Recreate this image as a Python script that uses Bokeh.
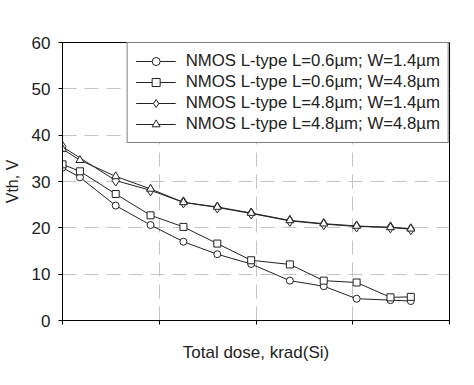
from bokeh.plotting import figure
from bokeh.models import FixedTicker, Range1d
from bokeh.embed import file_html
from bokeh.resources import INLINE

# Data
dose_a = [0, 18, 55, 91, 125, 160, 195, 235, 270, 304, 339, 360]
vth_l06_w14 = [33.0, 30.9, 24.8, 20.6, 17.0, 14.3, 12.2, 8.6, 7.4, 4.7, 4.4, 4.2]
vth_l06_w48 = [33.7, 32.2, 27.3, 22.7, 20.2, 16.6, 13.0, 12.1, 8.6, 8.2, 5.0, 5.1]
dose_d = [0, 55, 91, 125, 160, 195, 235, 270, 304, 339, 360]
vth_l48_w14 = [37.5, 30.2, 28.1, 25.5, 24.4, 23.1, 21.5, 20.8, 20.3, 20.1, 19.7]
vth_l48_w48 = [37.0, 34.6, 31.1, 28.4, 25.5, 24.5, 23.2, 21.6, 20.9, 20.4, 20.1, 19.8]

x_ticks = [0, 100, 200, 300, 400]
y_ticks = [0, 10, 20, 30, 40, 50, 60]
labels = [
    "NMOS L-type L=0.6µm; W=1.4µm",
    "NMOS L-type L=0.6µm; W=4.8µm",
    "NMOS L-type L=4.8µm; W=1.4µm",
    "NMOS L-type L=4.8µm; W=4.8µm",
]

FONT = "Liberation Sans"
INK = "#222222"

p = figure(frame_width=387, frame_height=278, output_backend="svg", toolbar_location=None,
           x_range=Range1d(0, 400), y_range=Range1d(0, 60),
           min_border_left=61, min_border_right=12, min_border_top=42, min_border_bottom=56)

p.outline_line_color = "black"
p.outline_line_alpha = 1.0

series = [
    (dose_a, vth_l06_w14, "circle", 7),
    (dose_a, vth_l06_w48, "square", 7),
    (dose_d, vth_l48_w14, "diamond", 11),
    (dose_a, vth_l48_w48, "triangle", 8),
]
for (xs, ys, marker, size), lab in zip(series, labels):
    p.line(xs, ys, line_color=INK, line_width=1, legend_label=lab)
    p.scatter(xs, ys, marker=marker, size=size, fill_color="white",
              line_color=INK, line_width=1, legend_label=lab)

# axes
p.xaxis.ticker = FixedTicker(ticks=x_ticks)
p.xaxis.major_label_overrides = {t: "" for t in x_ticks}
p.yaxis.ticker = FixedTicker(ticks=y_ticks)
for ax in (p.xaxis, p.yaxis):
    ax.axis_line_color = "black"
    ax.major_tick_line_color = "black"
    ax.major_tick_out = 4
    ax.major_tick_in = 0
    ax.minor_tick_line_color = None
    ax.major_label_text_font = FONT
    ax.major_label_text_font_size = "17px"
    ax.major_label_text_color = INK
    ax.axis_label_text_font = FONT
    ax.axis_label_text_font_size = "17px"
    ax.axis_label_text_font_style = "normal"
    ax.axis_label_text_color = INK
p.xaxis.axis_label = "Total dose, krad(Si)"
p.yaxis.axis_label = "Vth, V"
p.yaxis.axis_label_text_font_size = "16px"
p.yaxis.major_label_standoff = 8
p.yaxis.axis_label_standoff = 8
p.xaxis.axis_label_standoff = 18

# grid
p.xgrid.ticker = FixedTicker(ticks=[100, 200, 300])
p.ygrid.ticker = FixedTicker(ticks=[10, 20, 30, 40, 50])
for g in (p.xgrid, p.ygrid):
    g.grid_line_color = "#c4c4c4"
    g.grid_line_dash = "14 8"
    g.grid_line_width = 1

# legend
lg = p.legend[0]
lg.location = "top_right"
lg.margin = 0
lg.padding = 8
lg.spacing = 1
lg.glyph_width = 40
lg.glyph_height = 20
lg.label_height = 20
lg.label_standoff = 10
lg.label_text_font = FONT
lg.label_text_font_size = "16.8px"
lg.label_text_color = INK
lg.border_line_color = "black"
lg.border_line_width = 1
lg.background_fill_color = "white"
lg.background_fill_alpha = 1.0

open("out.html", "w").write(file_html(p, INLINE))
